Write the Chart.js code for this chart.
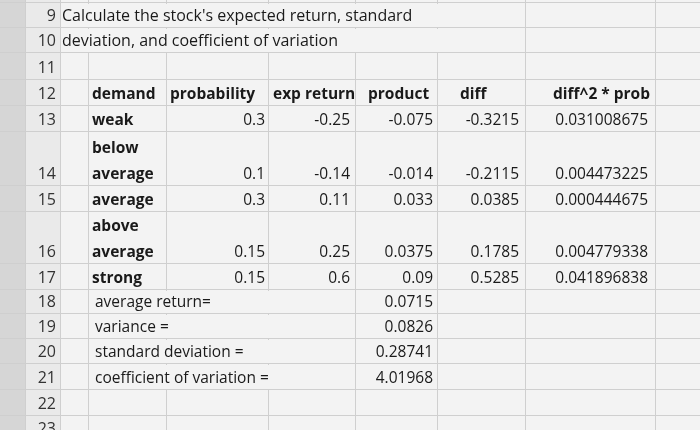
<!DOCTYPE html><html><head><style>html,body{margin:0;padding:0;background:#ececec}#w{width:700px;height:430px}</style>
<script src="https://cdn.jsdelivr.net/npm/chart.js@4"></script></head><body><div id="w"><canvas id="c"></canvas></div>
<script>
const rowNumbers=["9","10","11","12","13","14","15","16","17","18","19","20","21","22","23"];
const rowTops=[2,27,52,79,105,131,185,211,263,289,313,338,363,389,415,440];
const colEdges=[25,60,88,166,268,355,437,525,655,700];
const titleLines=["Calculate the stock's expected return, standard","deviation, and coefficient of variation"];
const headers=["demand","probability","exp return","product","diff","diff^2 * prob"];
const demand=[["weak"],["below","average"],["average"],["above","average"],["strong"]];
const probability=["0.3","0.1","0.3","0.15","0.15"];
const expReturn=["-0.25","-0.14","0.11","0.25","0.6"];
const product=["-0.075","-0.014","0.033","0.0375","0.09"];
const diff=["-0.3215","-0.2115","0.0385","0.1785","0.5285"];
const diffSqProb=["0.031008675","0.004473225","0.000444675","0.004779338","0.041896838"];
const summaryLabels=["average return=","variance =","standard deviation =","coefficient of variation ="];
const summaryValues=["0.0715","0.0826","0.28741","4.01968"];
const font='15.5px "Open Sans"', bold='bold 15.5px "Open Sans"';
const tablePlugin={id:'tbl',afterDraw(ch){
 const c=ch.ctx,X=v=>ch.scales.x.getPixelForValue(v),Y=v=>ch.scales.y.getPixelForValue(v);
 c.save();
 c.fillStyle='#d6d6d6';c.fillRect(X(0),Y(0),X(25)-X(0),Y(430)-Y(0));
 c.fillStyle='#eaeaea';c.fillRect(X(25),Y(0),X(60)-X(25),Y(430)-Y(0));
 c.fillStyle='#f3f3f3';c.fillRect(X(60),Y(0),X(700)-X(60),Y(430)-Y(0));
 c.strokeStyle='#cfcfcf';c.lineWidth=1;
 rowTops.forEach(t=>{c.beginPath();c.moveTo(X(0),Y(t)+.5);c.lineTo(X(700),Y(t)+.5);c.stroke();});
 colEdges.forEach(e=>{c.beginPath();c.moveTo(X(e)+.5,Y(0));c.lineTo(X(e)+.5,Y(430));c.stroke();});
 // overflowing text hides gridlines
 c.fillStyle='#f3f3f3';
 [0,1].forEach(i=>c.fillRect(X(62),Y(rowTops[i])+2,X(470)-X(62),Y(rowTops[i+1])-Y(rowTops[i])-2));
 [9,10,11,12].forEach(i=>c.fillRect(X(90),Y(rowTops[i])+2,X(352)-X(90),Y(rowTops[i+1])-Y(rowTops[i])-2));
 c.textBaseline='alphabetic';
 const bot=i=>rowTops[i+1]-6;
 c.font='16px "Open Sans"';c.fillStyle='#333';c.textAlign='right';
 rowNumbers.forEach((n,i)=>c.fillText(n,X(56),Y(bot(i))));
 c.fillStyle='#1a1a1a';c.textAlign='left';
 titleLines.forEach((t,i)=>c.fillText(t,X(62),Y(bot(i))));
 const R=(t,x,y,f)=>{c.font=f||font;c.textAlign='right';c.fillText(t,X(x),Y(y));};
 const L=(t,x,y,f)=>{c.font=f||font;c.textAlign='left';c.fillText(t,X(x),Y(y));};
 L(headers[0],92,bot(3),bold);L(headers[1],170,bot(3),bold);L(headers[2],273,bot(3),bold);
 L(headers[3],368,bot(3),bold);L(headers[4],460,bot(3),bold);L(headers[5],553,bot(3),bold);
 for(let k=0;k<5;k++){const ri=4+k,y=bot(ri);
  demand[k].forEach((t,j)=>L(t,92,y-(demand[k].length-1-j)*26,bold));
  R(probability[k],265,y);R(expReturn[k],350,y);R(product[k],433,y);R(diff[k],519,y);R(diffSqProb[k],648,y);}
 summaryLabels.forEach((t,i)=>{L(t,95,bot(9+i));R(summaryValues[i],433,bot(9+i));});
 c.restore();}};
new Chart(document.getElementById('c'),{type:'scatter',data:{datasets:[{data:[],pointRadius:0}]},
 options:{responsive:true,maintainAspectRatio:false,animation:false,layout:{padding:0},
 plugins:{legend:{display:false},tooltip:{enabled:false}},
 scales:{x:{type:'linear',min:0,max:700,display:false},y:{type:'linear',min:0,max:430,reverse:true,display:false}}},
 plugins:[tablePlugin]});
</script></body></html>
